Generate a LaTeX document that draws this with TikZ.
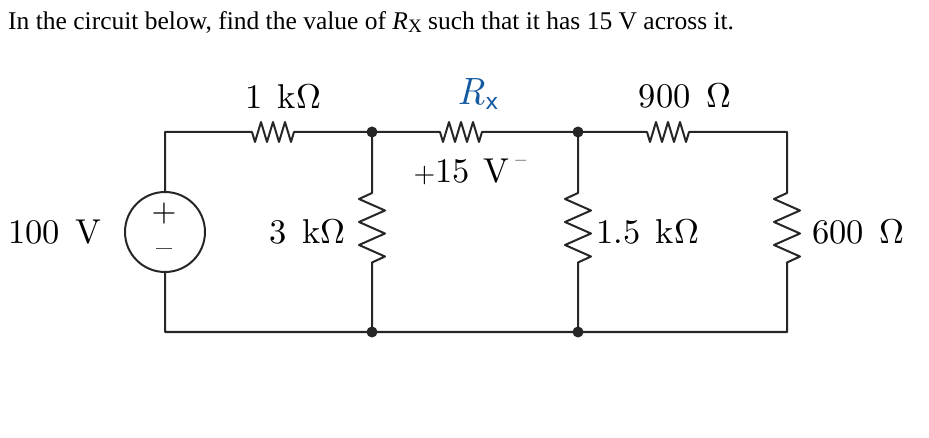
\documentclass[tikz,border=0pt]{standalone}
\usepackage{fontspec}
\newfontfamily\titlefont{Liberation Serif}
\newfontfamily\sansx{DejaVu Sans}
\newfontfamily\lmten{lmroman10-regular}[Extension=.otf,ItalicFont=lmroman10-italic]
\begin{document}
\begin{tikzpicture}[x=1pt,y=-1pt,
  wire/.style={line width=2pt,black!85},
  dot/.style={circle,fill=black!85,inner sep=0pt,minimum size=11pt},
  lab/.style={inner sep=0pt,font=\lmten\fontsize{34.5}{34.5}\selectfont}]
\useasboundingbox (0,0) rectangle (929,438);
\node[anchor=base west,inner sep=0pt,font=\titlefont\fontsize{25.5}{26}\selectfont] (title) at (8,30)
  {In the circuit below, find the value of \textit{R}\raisebox{-0.25ex}{\fontsize{19}{19}\selectfont X} such that it has 15 V across it.};
% nodes
\coordinate (tl) at (165,132); \coordinate (bl) at (165,332);
\coordinate (tr) at (787,132); \coordinate (br) at (787,332);
\node[dot] (n1) at (372,132) {}; \node[dot] (n2) at (578,132) {};
\node[dot] (n3) at (372,332) {}; \node[dot] (n4) at (578,332) {};
\node[draw,wire,circle,minimum size=80pt,inner sep=0pt] (src) at (165,232) {};
\node[font=\lmten\fontsize{32}{32}\selectfont] (plus) at (164,214) {+};
\node[font=\lmten\fontsize{32}{32}\selectfont] (minus) at (164,253) {–};
% wires
\draw[wire,line join=round] (src.north) -- (tl) -- (252,132)
  -- ++(3,10) -- ++(6,-20) -- ++(6,20) -- ++(6,-20) -- ++(6,20) -- ++(6,-20) -- ++(6,20) -- ++(3,-10)
  -- (n1.center) -- (440,132)
  -- ++(3,10) -- ++(6,-20) -- ++(6,20) -- ++(6,-20) -- ++(6,20) -- ++(6,-20) -- ++(6,20) -- ++(3,-10)
  -- (n2.center) -- (647,132)
  -- ++(3,10) -- ++(6,-20) -- ++(6,20) -- ++(6,-20) -- ++(6,20) -- ++(6,-20) -- ++(6,20) -- ++(3,-10)
  -- (tr) -- (787,193)
  -- ++(-13,6) -- ++(26,11.5) -- ++(-26,11.5) -- ++(26,11.5) -- ++(-26,11.5) -- ++(26,11.5) -- ++(-13,6)
  -- (br) -- (n4.center) -- (n3.center) -- (bl) -- (src.south);
\draw[wire,line join=round] (n1.center) -- (372,193)
  -- ++(-13,6) -- ++(26,11.5) -- ++(-26,11.5) -- ++(26,11.5) -- ++(-26,11.5) -- ++(26,11.5) -- ++(-13,6)
  -- (n3.center);
\draw[wire,line join=round] (n2.center) -- (578,193)
  -- ++(-13,6) -- ++(26,11.5) -- ++(-26,11.5) -- ++(26,11.5) -- ++(-26,11.5) -- ++(26,11.5) -- ++(-13,6)
  -- (n4.center);
% labels
\node[lab] (l1) at (283,96) {1\hspace{0.45em}kΩ};
\node[lab,text={rgb,255:red,20;green,90;blue,160}] (lrx) at (478,94) {\fontsize{38}{38}\selectfont\textit{R}\raisebox{-0.3ex}{\sansx\fontsize{22}{22}\selectfont x}};
\node[lab] (l15) at (470,172) {{\fontsize{28}{28}\selectfont +}15\hspace{0.4em}V\,\raisebox{1.1ex}{\fontsize{22}{22}\selectfont –}};
\node[lab] (l9) at (685,96) {900\hspace{0.45em}Ω};
\node[lab,anchor=west] (l100) at (8,232) {100\hspace{0.45em}V};
\node[lab,anchor=east] (l3) at (346,232) {3\hspace{0.45em}kΩ};
\node[lab,anchor=west] (l1k5) at (596,232) {1.5\hspace{0.45em}kΩ};
\node[lab,anchor=west] (l6) at (812,232) {600\hspace{0.45em}Ω};
\end{tikzpicture}
\end{document}
